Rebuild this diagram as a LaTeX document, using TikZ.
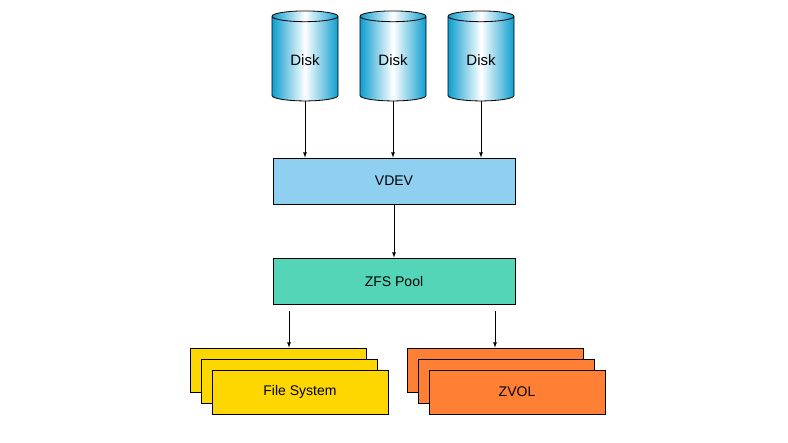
\documentclass[tikz,border=0pt]{standalone}
\usepackage{fontspec}
\setmainfont{Liberation Sans}
\usetikzlibrary{shapes.geometric}
\definecolor{vdevblue}{HTML}{8FD0F0}
\definecolor{poolgreen}{HTML}{55D5B8}
\definecolor{fsyellow}{HTML}{FFD700}
\definecolor{zvolorange}{HTML}{FF8035}
\definecolor{diskdark}{HTML}{0E9ED0}
\tikzset{
  disk/.style = {cylinder, shape border rotate=90, aspect=0.3, draw, thick,
    minimum width=66pt, minimum height=90pt, left color=diskdark,
    right color=diskdark, middle color=white, font=\fontsize{15}{18}\selectfont},
  layer/.style = {draw, thick, minimum width=242pt, minimum height=46pt,
    font=\fontsize{14}{17}\selectfont},
  sheet/.style = {draw, thick, minimum width=176pt, minimum height=44pt,
    font=\fontsize{14}{17}\selectfont},
  flow/.style = {->, thick, >=latex}
}
\begin{document}
\begin{tikzpicture}[x=1pt, y=-1pt]
        \useasboundingbox (0, 0) rectangle (788, 443);

        \node [disk] (disk1) at (305, 60) {Disk};
        \node [disk] (disk2) at (393, 60) {Disk};
        \node [disk] (disk3) at (481, 60) {Disk};

        \node [layer, fill=vdevblue] (vdev) at (394, 181) {VDEV};
        \node [layer, fill=poolgreen] (pool) at (394, 281) {ZFS Pool};

        % stacked sheets
        \node [sheet, fill=fsyellow] (fs3) at (278, 370) {};
        \node [sheet, fill=fsyellow] (fs2) at (289, 381) {};
        \node [sheet, fill=fsyellow] (fs) at (300, 392) {File System};
        \node [sheet, fill=zvolorange] (zv3) at (495, 370) {};
        \node [sheet, fill=zvolorange] (zv2) at (506, 381) {};
        \node [sheet, fill=zvolorange] (zvol) at (517, 392) {ZVOL};

        \draw [flow] (disk1.south) -- (disk1.south |- vdev.north);
        \draw [flow] (disk2.south) -- (disk2.south |- vdev.north);
        \draw [flow] (disk3.south) -- (disk3.south |- vdev.north);
        \draw [flow] (vdev) -- (pool);
        \draw [flow] (pool.south -| fs2) ++(0, 7) -- (fs3.north -| fs2);
        \draw [flow] (pool.south -| zv3) ++(0, 7) -- (zv3.north);
\end{tikzpicture}
\end{document}
